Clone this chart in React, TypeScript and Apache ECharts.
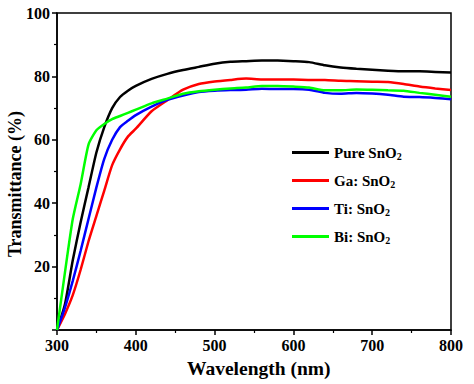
import React, { useEffect, useRef } from "react";
import * as echarts from "echarts";

// Wavelength grid (nm) shared by all spectra
const wavelengths = [300, 310, 320, 330, 340, 350, 360, 370, 380, 390, 400, 420, 440, 460, 480, 500, 520, 540, 560, 580, 600, 620, 640, 660, 680, 700, 720, 740, 760, 780, 800];

// Transmittance (%) for each film
const pureSnO2 = [0, 8, 22, 34, 45, 56, 64, 70, 73.5, 75.5, 77, 79.2, 80.8, 82, 83, 84, 84.6, 84.8, 85, 85, 84.8, 84.5, 83.5, 82.8, 82.4, 82.1, 81.8, 81.6, 81.6, 81.4, 81.2];
const gaSnO2 = [0, 5, 11, 19, 28, 36, 44, 52, 57, 61, 63.5, 69, 72.5, 75.8, 77.6, 78.4, 78.9, 79.3, 79, 79, 79, 78.9, 78.9, 78.6, 78.5, 78.3, 78.2, 77.6, 76.8, 76.2, 75.7];
const tiSnO2 = [0, 7, 15.5, 25, 35, 45, 54, 60, 64, 66, 67.8, 70.5, 72.6, 74, 75.1, 75.5, 75.7, 75.8, 76.1, 76, 76, 75.8, 74.8, 74.5, 74.8, 74.6, 74.2, 73.6, 73.5, 73.2, 72.8];
const biSnO2 = [0, 18, 35, 46, 58.5, 63, 65, 66.5, 67.5, 68.5, 69.5, 71.5, 73, 74.5, 75.3, 75.8, 76.2, 76.5, 77, 77, 76.8, 76.5, 75.6, 75.6, 75.9, 75.8, 75.6, 75.5, 74.8, 74.2, 73.6];

const seriesNames = ["Pure SnO2", "Ga: SnO2", "Ti: SnO2", "Bi: SnO2"];
const seriesData = [pureSnO2, gaSnO2, tiSnO2, biSnO2];
const seriesColors = ["#000000", "#ff0000", "#0000ff", "#00ff00"];

const xTitle = "Wavelength (nm)";
const yTitle = "Transmittance (%)";

const FONT = "'Liberation Serif', 'Times New Roman', serif";

export default function App() {
  const ref = useRef<HTMLDivElement>(null);

  useEffect(() => {
    if (!ref.current) return;
    const chart = echarts.init(ref.current, undefined, { renderer: "svg" });

    const series = seriesNames.map((name, i) => ({
      name,
      type: "line",
      data: wavelengths.map((w, j) => [w, seriesData[i][j]]),
      showSymbol: false,
      smooth: 0.2,
      lineStyle: { color: seriesColors[i], width: 2.5 },
      itemStyle: { color: seriesColors[i] },
    }));

    chart.setOption({
      animation: false,
      backgroundColor: "#ffffff",
      grid: {
        left: 57,
        right: 23,
        top: 13,
        bottom: 54,
        show: true,
        borderColor: "#000",
        borderWidth: 1.5,
        backgroundColor: "transparent",
      },
      legend: {
        orient: "vertical",
        left: 287,
        top: 140,
        itemWidth: 37,
        itemHeight: 3,
        itemGap: 12,
        icon: "rect",
        data: seriesNames,
        formatter: (name: string) => {
          const base = name.slice(0, -1);
          return `{t|${base}}{s|2}`;
        },
        textStyle: {
          fontFamily: FONT,
          fontWeight: "bold",
          fontSize: 15,
          color: "#000",
          rich: {
            t: { fontFamily: FONT, fontWeight: "bold", fontSize: 15, color: "#000", lineHeight: 17 },
            s: { fontFamily: FONT, fontWeight: "bold", fontSize: 10, color: "#000", verticalAlign: "bottom", padding: [6, 0, 0, 0], lineHeight: 17 },
          },
        },
      },
      graphic: [
        {
          type: "text",
          left: 187,
          top: 358,
          style: { text: xTitle, font: `bold 19.5px ${FONT}`, fill: "#000" },
        },
        {
          type: "text",
          x: 15,
          y: 184,
          rotation: Math.PI / 2,
          style: {
            text: yTitle,
            font: `bold 18px ${FONT}`,
            fill: "#000",
            align: "center",
            verticalAlign: "middle",
          },
        },
      ],
      xAxis: {
        type: "value",
        min: 300,
        max: 800,
        interval: 100,
        axisLine: { show: true, lineStyle: { color: "#000", width: 1.5 } },
        axisTick: { show: true, inside: false, length: 5, lineStyle: { color: "#000", width: 1.5 } },
        minorTick: { show: true, splitNumber: 2, length: 3, lineStyle: { color: "#000", width: 1.2 } },
        splitLine: { show: false },
        axisLabel: { fontFamily: FONT, fontWeight: "bold", fontSize: 16, color: "#000", margin: 7 },
      },
      yAxis: {
        type: "value",
        min: 0,
        max: 100,
        interval: 20,
        axisLine: { show: true, lineStyle: { color: "#000", width: 1.5 } },
        axisTick: { show: true, inside: false, length: 5, lineStyle: { color: "#000", width: 1.5 } },
        minorTick: { show: true, splitNumber: 2, length: 3, lineStyle: { color: "#000", width: 1.2 } },
        splitLine: { show: false },
        axisLabel: {
          fontFamily: FONT,
          fontWeight: "bold",
          fontSize: 16,
          color: "#000",
          margin: 7,
          formatter: (v: number) => (v === 0 ? "" : String(v)),
        },
      },
      series,
    });

    return () => chart.dispose();
  }, []);

  return <div ref={ref} style={{ width: 474, height: 384, position: "absolute", left: 0, top: 0 }} />;
}
